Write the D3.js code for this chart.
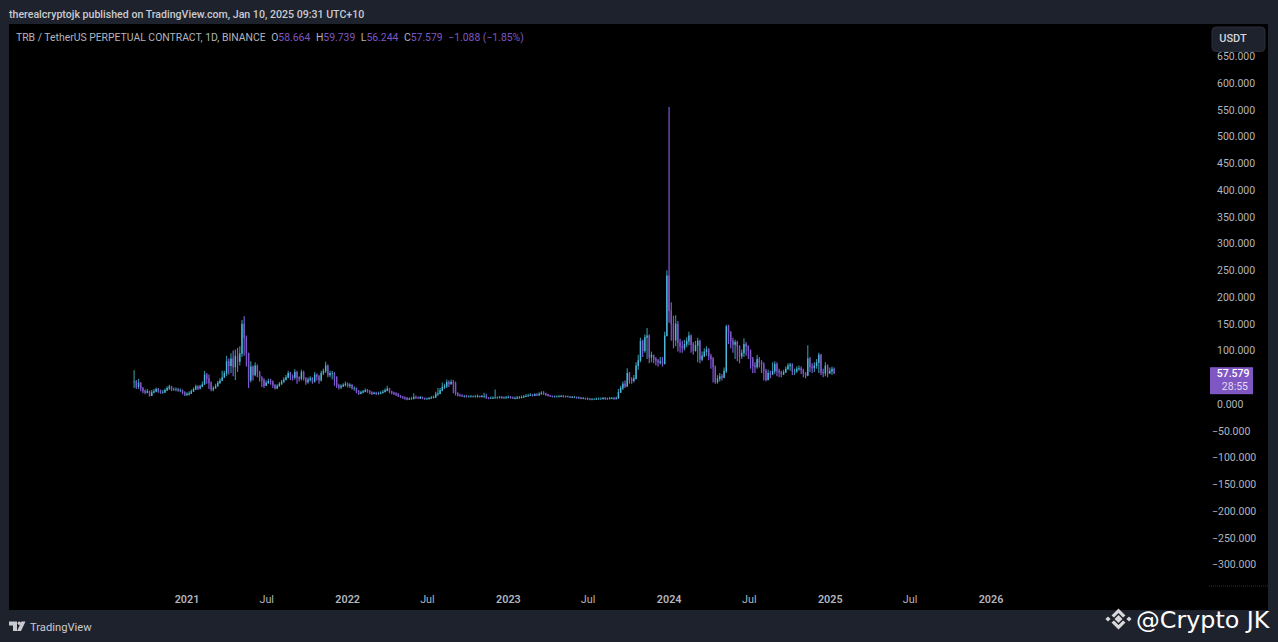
<!DOCTYPE html>
<html><head><meta charset="utf-8">
<script src="https://cdn.jsdelivr.net/npm/d3@7/dist/d3.min.js"></script>
<style>html,body{margin:0;padding:0;background:#1e222d;overflow:hidden}svg{display:block}text{font-family:Roboto,"Noto Sans",sans-serif}</style>
</head><body><svg id="c" width="1278" height="642"></svg>
<script>
const firstDay = new Date(2020, 8, 4), stepDays = 5;
const closes = [42,33,40,30,25,22,24,16,22,24,
28,25,22,22,26,30,33,28,28,28,
26,26,22,18,19,20,24,28,33,30,
33,37,55,48,40,28,30,34,40,44,
50,58,80,72,85,70,90,80,95,150,
125,95,45,70,55,72,60,50,45,35,
40,43,42,36,30,34,38,42,46,50,
58,52,50,60,50,48,60,48,42,46,
48,42,55,52,45,58,62,72,55,58,
58,50,35,32,34,36,38,35,36,30,
30,24,20,22,24,26,24,22,20,21,
20,20,21,23,26,29,24,21,20,19,
16,14,12,11,9,10,10,13,12,11,
13,11,10,10,11,12,13,19,20,26,
32,34,41,38,41,40,20,17,16,15,
15,14,14,14,14,14,15,14,15,15,
12,11,11,12,12,12,13,12,12,12,
13,12,11,11,12,12,13,14,15,16,
17,16,18,17,19,21,20,18,16,15,
14,14,14,14,15,14,14,14,13,13,
13,12,12,11,11,10,10,9,9,9,
10,10,10,11,10,10,11,11,10,11,
22,30,38,34,58,46,44,48,72,82,
118,100,125,128,88,92,84,82,78,80,
76,128,240,175,150,120,150,115,108,105,
112,118,128,112,100,110,118,84,90,98,
102,90,85,70,42,48,52,50,62,145,
135,118,112,116,108,90,96,112,108,100,
85,72,70,84,78,75,62,46,58,56,
62,75,62,60,56,60,66,72,74,62,
62,66,67,64,58,54,85,70,68,72,
78,92,60,58,72,58,62,66,58];
const highs = [63,45,47,40,32,27,28,25,26,28,
31,30,27,26,29,33,36,34,31,31,
30,29,27,24,22,24,27,31,36,35,
36,42,62,58,55,42,33,38,43,48,
62,62,90,85,95,100,102,105,108,157,
164,128,96,80,72,78,74,62,52,48,
44,47,47,44,37,37,41,45,50,54,
62,60,55,65,62,52,64,62,50,50,
52,50,60,57,54,62,66,79,74,62,
62,60,52,38,37,39,42,40,39,37,
33,31,26,25,26,29,28,26,24,23,
23,23,24,26,29,34,30,25,23,22,
20,17,15,14,13,12,13,20,16,14,
15,14,12,12,13,15,16,23,30,30,
40,38,46,44,46,45,42,22,19,18,
17,17,16,17,16,17,18,16,17,21,
19,13,14,14,27,14,15,15,14,15,
16,15,14,14,15,15,16,17,18,19,
20,19,20,20,22,24,24,21,19,17,
16,16,16,17,17,17,16,16,15,15,
15,14,14,13,13,12,12,11,11,11,
12,12,12,13,13,12,13,13,13,14,
28,34,42,44,67,60,50,54,78,92,
124,120,130,142,130,98,92,88,84,88,
88,135,250,555,190,165,166,155,122,118,
120,125,135,130,116,118,124,120,98,104,
108,104,94,88,72,54,58,56,68,148,
148,136,124,120,118,110,102,123,116,110,
102,88,78,92,88,82,78,66,64,62,
78,80,78,66,62,64,70,76,77,76,
66,70,72,70,66,60,110,88,76,78,
84,96,94,66,78,74,68,70,68];
const lows = [30,28,28,24,20,18,20,14,15,20,
22,21,19,19,21,25,26,24,25,24,
23,22,18,15,15,16,19,23,26,26,
27,32,38,38,28,24,24,29,33,38,
44,50,52,55,58,52,45,60,72,88,
90,70,30,40,44,52,50,42,32,30,
34,38,36,30,27,28,33,36,40,44,
48,45,44,46,38,42,44,44,36,38,
42,38,40,44,38,42,54,58,50,50,
46,34,30,27,28,32,33,31,30,27,
25,20,17,18,20,22,21,18,17,18,
17,17,18,20,22,24,20,18,17,15,
13,11,10,8,7,8,8,10,10,10,
10,9,8,8,9,10,11,12,15,18,
24,28,30,32,36,20,16,14,14,13,
12,12,12,12,12,12,12,12,12,11,
10,9,10,10,10,10,11,10,10,10,
11,10,10,9,10,10,11,12,13,14,
15,14,15,15,16,18,17,15,14,13,
12,12,12,12,13,12,12,12,11,11,
11,10,10,9,9,8,8,7,7,8,
8,8,8,9,8,8,9,9,8,9,
11,21,26,30,32,38,38,40,46,64,
78,88,96,84,76,78,76,72,70,74,
70,74,126,152,118,104,108,98,96,96,
100,106,110,96,92,98,78,76,80,88,
90,82,66,40,38,38,42,44,48,58,
112,104,96,84,80,76,84,88,90,84,
66,58,58,66,68,58,44,42,44,48,
54,56,52,50,50,54,58,64,62,54,
54,58,62,56,50,48,52,60,58,60,
66,58,54,50,52,50,56,54,56];
const priceTicks = [-300,-250,-200,-150,-100,-50,0,100,150,200,250,300,350,400,450,500,550,600,650];
const timeTicks = [[2021,0,"2021"],[2021,6,"Jul"],[2022,0,"2022"],[2022,6,"Jul"],[2023,0,"2023"],[2023,6,"Jul"],[2024,0,"2024"],[2024,6,"Jul"],[2025,0,"2025"],[2025,6,"Jul"],[2026,0,"2026"]];
const titleText = "TRB / TetherUS PERPETUAL CONTRACT, 1D, BINANCE";
const ohlc = [["O","58.664"],["H","59.739"],["L","56.244"],["C","57.579"]];
const changeText = "\u22121.088 (\u22121.85%)";
const lastPrice = 57.579;

const UP="#4db6dc", DOWN="#7e57c2", TXT="#b2b5be";
const svg=d3.select("#c");
svg.append("rect").attr("width",1278).attr("height",642).attr("fill","#1e222d");
svg.append("rect").attr("x",9).attr("y",24).attr("width",1259).attr("height",586).attr("fill","#000");
svg.append("text").attr("x",9).attr("y",18).attr("font-size",10.6).attr("font-weight",500).attr("fill","#c8cad0")
  .text("therealcryptojk published on TradingView.com, Jan 10, 2025 09:31 UTC+10");

const x=d3.scaleTime().domain([new Date(2021,0,1),new Date(2026,0,1)]).range([186.5,990.5]);
const y=d3.scaleLinear().domain([0,600]).range([404,83]);
const candles=closes.map((c,i)=>({d:d3.timeDay.offset(firstDay,i*stepDays),c,h:highs[i],l:lows[i],o:i?closes[i-1]:c}));

const gc=svg.append("g");
gc.selectAll("line.w").data(candles).join("line").attr("class","w")
  .attr("x1",d=>x(d.d)).attr("x2",d=>x(d.d)).attr("y1",d=>y(d.h)).attr("y2",d=>y(d.l))
  .attr("stroke",d=>d.c>=d.o?"#2f8a94":"#7e57d2").attr("stroke-width",1.2);
gc.selectAll("line.b").data(candles).join("line").attr("class","b")
  .attr("x1",d=>x(d.d)).attr("x2",d=>x(d.d)).attr("y1",d=>y(Math.max(d.o,d.c))).attr("y2",d=>y(Math.min(d.o,d.c))+0.6)
  .attr("stroke",d=>d.c>=d.o?UP:DOWN).attr("stroke-width",1.4);

// price axis
const ay=svg.append("g").attr("transform","translate(1217,0)")
  .call(d3.axisRight(y).tickValues(priceTicks).tickSize(0).tickPadding(0).tickFormat(d3.format(".3f")));
ay.select(".domain").remove();
ay.selectAll("text").attr("font-size",10.5).attr("fill",TXT).style("font-family","Roboto,sans-serif");
ay.selectAll(".tick text").filter(d=>d<0).attr("x",-5);

// USDT button covers the top tick
svg.append("rect").attr("x",1212).attr("y",27).attr("width",53).attr("height",24.5).attr("rx",4)
  .attr("fill","#1e222d").attr("stroke","#2a2e39");
svg.append("text").attr("x",1233).attr("y",42).attr("text-anchor","middle").attr("font-size",11).attr("font-weight",500).attr("fill","#d1d4dc").text("USDT");

// bottom dotted separator
svg.append("line").attr("x1",1209).attr("x2",1268).attr("y1",586).attr("y2",586).attr("stroke","#2a2e39").attr("stroke-dasharray","1 1");

// last price tag
const ty=y(lastPrice);
svg.append("rect").attr("x",1210).attr("y",ty-6).attr("width",43).attr("height",27).attr("fill","#7e57c2");
svg.append("text").attr("x",1249.5).attr("y",ty+4).attr("text-anchor","end").attr("font-size",10.5).attr("font-weight",500).attr("fill","#fff").text(d3.format(".3f")(lastPrice));
svg.append("text").attr("x",1248).attr("y",ty+17).attr("text-anchor","end").attr("font-size",10.5).attr("fill","#e3dbf5").text("28:55");

// time axis
const ax=svg.append("g").attr("transform","translate(0,597)")
  .call(d3.axisBottom(x).tickValues(timeTicks.map(t=>new Date(t[0],t[1],1))).tickSize(0).tickPadding(0)
  .tickFormat((d,i)=>timeTicks[i][2]));
ax.select(".domain").remove();
ax.selectAll("text").attr("font-size",10.8).attr("fill",TXT).attr("dy","0.6em").style("font-family","Roboto,sans-serif")
  .attr("font-weight",(d,i)=>timeTicks[i][2]==="Jul"?400:600);

// legend line
const leg=svg.append("text").attr("x",16).attr("y",41).attr("font-size",10.4).attr("fill",TXT);
leg.append("tspan").text(titleText+"  ");
ohlc.forEach(p=>{leg.append("tspan").attr("fill",TXT).attr("dx",3).text(p[0]);leg.append("tspan").attr("fill","#7e57c2").text(p[1]+"  ");});
leg.append("tspan").attr("fill","#7e57c2").attr("dx",3).text(changeText);

// TradingView footer
const lg=svg.append("g").attr("fill","#c8cad0");
lg.append("path").attr("d","M9 621.5H17V631H13V625.5H9Z");
lg.append("circle").attr("cx",19.3).attr("cy",623.2).attr("r",1.7);
lg.append("path").attr("d","M21.5 621.5H25.5L21 631H17Z");
svg.append("text").attr("x",30).attr("y",631).attr("font-size",11.2).attr("fill","#c8cad0").text("TradingView");

// watermark
const cx=1118.5,cy=619,wm=svg.append("g").attr("fill","#d9d9d9");
[[0,0,4],[-10.5,0,2.6],[10.5,0,2.6]].forEach(([dx,dy,r])=>wm.append("path").attr("d",`M${cx+dx-r} ${cy+dy}L${cx+dx} ${cy+dy-r}L${cx+dx+r} ${cy+dy}L${cx+dx} ${cy+dy+r}Z`));
wm.append("path").attr("d",`M${cx-7} ${cy-3.5}L${cx} ${cy-10.5}L${cx+7} ${cy-3.5}L${cx+4.5} ${cy-1.5}L${cx} ${cy-6}L${cx-4.5} ${cy-1.5}Z`);
wm.append("path").attr("d",`M${cx-7} ${cy+3.5}L${cx} ${cy+10.5}L${cx+7} ${cy+3.5}L${cx+4.5} ${cy+1.5}L${cx} ${cy+6}L${cx-4.5} ${cy+1.5}Z`);
svg.append("text").attr("x",1136).attr("y",628).attr("font-size",23.8).attr("fill","#fff").style("font-family","'DejaVu Sans',sans-serif").text("@Crypto JK");
</script></body></html>
